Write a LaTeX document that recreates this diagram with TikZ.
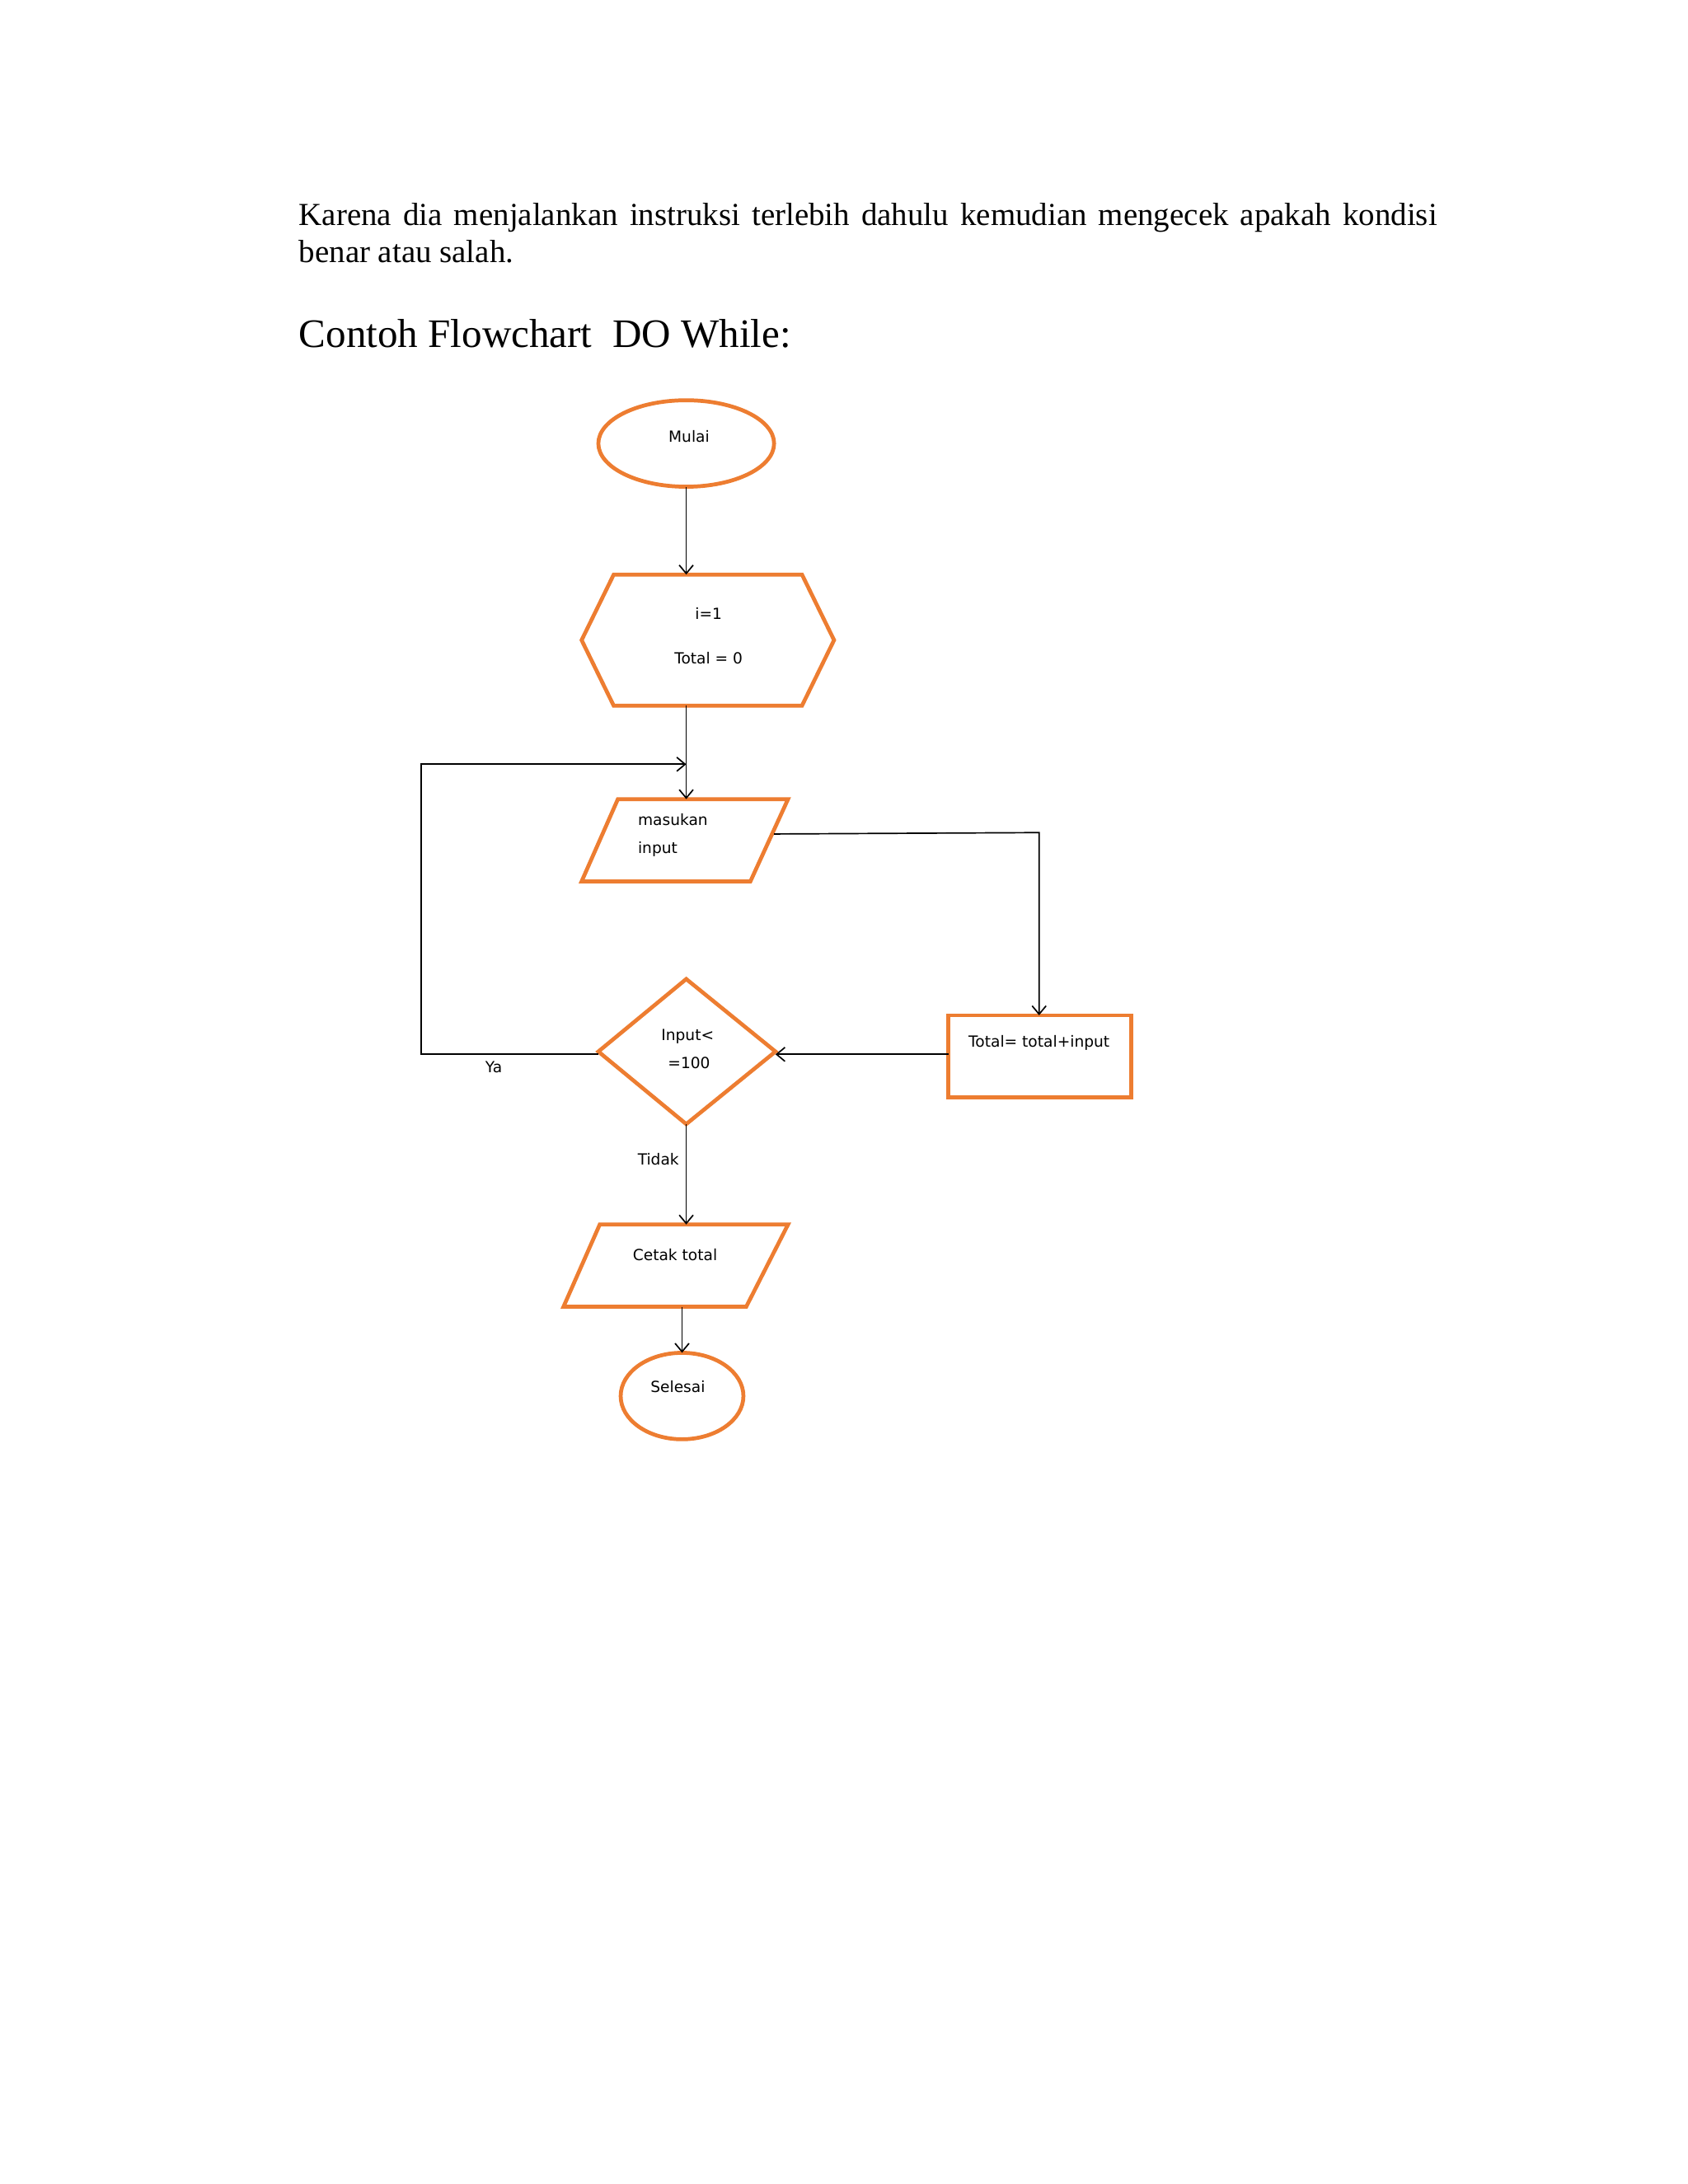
\documentclass[tikz,border=0pt]{standalone}
\usepackage{fontspec}
\setmainfont{Liberation Serif}
\newfontfamily\lab{DejaVu Sans}
\usetikzlibrary{arrows.meta}
\definecolor{org}{RGB}{237,125,49}
\begin{document}
\begin{tikzpicture}[x=0.5pt,y=-0.5pt,
  shp/.style={draw=org,line width=1.4pt},
  con/.style={draw=black,line width=0.5pt},
  arr/.style={con,-{Straight Barb[length=3pt,width=5pt]}},
  lbl/.style={font=\lab\fontsize{5.5}{7}\selectfont,inner sep=0pt}]
\useasboundingbox (0,0) rectangle (1210,1566);
\node[anchor=north west,text width=408pt,align=justify,inner sep=0pt,font=\fontsize{11.5}{13.5}\selectfont] (para) at (214,145)
 {Karena dia menjalankan instruksi terlebih dahulu kemudian mengecek apakah kondisi benar atau salah.};
\node[anchor=west,inner sep=0pt,font=\fontsize{14.5}{17}\selectfont] (head) at (214,239) {Contoh Flowchart\ \ DO While:};
% shapes
\draw[shp] (492,318) ellipse [x radius=63,y radius=31];
\node[lbl] (mulai) at (494,313) {Mulai};
\coordinate (mulaiB) at (492,349);
\draw[shp] (440,412)--(575,412)--(598,459)--(575,506)--(440,506)--(417,459)--cycle;
\node[lbl] (i1) at (508,440) {i=1};
\node[lbl] (tot0) at (508,472) {Total = 0};
\coordinate (hexT) at (492,412); \coordinate (hexB) at (492,506);
\draw[shp] (443,573)--(565,573)--(538,632)--(417,632)--cycle;
\node[lbl,anchor=west,align=left] (mas) at (457,599) {masukan\\[3pt]input};
\coordinate (inT) at (492,573); \coordinate (inR) at (555,598); \coordinate (loopIn) at (492,548);
\draw[shp] (680,728) rectangle (811,787);
\node[lbl] (totb) at (745,748) {Total= total+input};
\coordinate (boxT) at (745,728); \coordinate (boxL) at (680,756); \coordinate (c1) at (745,597);
\draw[shp] (492,702)--(556,754)--(492,806)--(429,754)--cycle;
\node[lbl] (d1) at (493,743) {Input<};
\node[lbl] (d2) at (494,762) {=100};
\coordinate (dR) at (556,756); \coordinate (dL) at (429,756); \coordinate (dB) at (492,806);
\coordinate (y1) at (302,756); \coordinate (y2) at (302,548);
\node[lbl] (ya) at (354,765) {Ya};
\node[lbl] (tidak) at (472,831) {Tidak};
\draw[shp] (430,878)--(565,878)--(535,937)--(404,937)--cycle;
\node[lbl] (cetak) at (484,900) {Cetak total};
\coordinate (cT) at (492,878); \coordinate (cB) at (489,937);
\draw[shp] (489,1001) ellipse [x radius=44,y radius=31];
\node[lbl] (sel) at (486,994) {Selesai};
\coordinate (sT) at (489,970);
% connectors
\draw[arr] (mulaiB)--(hexT);
\draw[arr] (hexB)--(inT);
\draw[arr] (inR)--(c1)--(boxT);
\draw[arr] (boxL)--(dR);
\draw[arr] (dL)--(y1)--(y2)--(loopIn);
\draw[arr] (dB)--(cT);
\draw[arr] (cB)--(sT);
\end{tikzpicture}
\end{document}
